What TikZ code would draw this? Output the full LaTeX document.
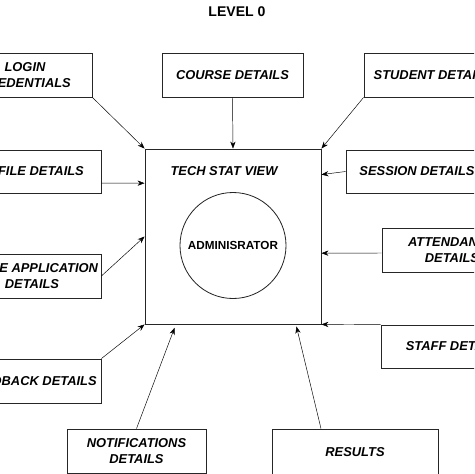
\documentclass[tikz,border=0pt]{standalone}
\usepackage{fontspec}
\setmainfont{Liberation Sans}
\usetikzlibrary{arrows.meta}
\begin{document}
\begin{tikzpicture}
  [x=0.03cm, y=-0.03cm,
  >={Stealth[length=6pt,width=4.5pt]},
  flux/.style={
    draw=black!85,
    rectangle,
    minimum height=1.32cm,
    inner sep=0pt,
    align=center,
    line width=0.7pt,
    font=\fontsize{11}{13.6}\selectfont\bfseries\itshape},
  systeme/.style={
    draw=black!85,
    rectangle,
    minimum width=5.28cm,
    minimum height=5.25cm,
    line width=0.7pt},
  acteur/.style={
    draw=black!85,
    circle,
    minimum size=3.18cm,
    inner sep=0pt,
    line width=0.7pt,
    font=\fontsize{10}{12}\selectfont\bfseries}]

  \useasboundingbox (0,0) rectangle (474,474);
  \clip (0,0) rectangle (474,474);

  \node [font=\fontsize{12}{14}\selectfont\bfseries] at (237,12) (titre) {LEVEL 0};

  \node [systeme] at (233,236.5) (system) {};
  \node [font=\fontsize{11}{13}\selectfont\bfseries\itshape] at (224,171) (vue) {TECH STAT VIEW};
  \node [acteur] at (233,245.5) (admin) {ADMINISRATOR};

  \node [flux, minimum width=4.02cm] at (25,75) (login) {LOGIN\\CREDENTIALS};
  \node [flux, minimum width=4.23cm] at (232.5,75) (course) {COURSE DETAILS};
  \node [flux, minimum width=4.14cm] at (433,75) (student) {STUDENT DETAILS};
  \node [flux, minimum width=4.44cm, minimum height=1.29cm] at (27,171.5) (profile) {PROFILE DETAILS};
  \node [flux, minimum width=4.26cm, minimum height=1.29cm] at (417,171.5) (session) {SESSION DETAILS};
  \node [flux, minimum width=4.14cm] at (32,276) (leave) {LEAVE APPLICATION\\DETAILS};
  \node [flux, minimum width=4.2cm] at (452,250) (attendance) {ATTENDANCE\\DETAILS};
  \node [flux, minimum width=4.14cm] at (32,381) (feedback) {FEEDBACK DETAILS};
  \node [flux, minimum width=4.44cm, minimum height=1.29cm] at (455,346.5) (staff) {STAFF DETAILS};
  \node [flux, minimum width=4.17cm] at (136.5,451) (notif) {NOTIFICATIONS\\DETAILS};
  \node [flux, minimum width=4.98cm, minimum height=1.38cm] at (355,452) (results) {RESULTS};

  \draw [->] (login.south east) -- (system.north west);
  \draw [->] (course.south) -- (system.north);
  \draw [->] (student.south west) -- (system.north east);
  \draw [->] ([yshift=-0.35cm]profile.east) -- ([yshift=1.6cm]system.west);
  \draw [->] (session.west) -- ([yshift=-0.78cm]system.north east);
  \draw [->] (leave.east) -- (system.west);
  \draw [->] ([yshift=-0.09cm]attendance.west) -- ([yshift=-0.5cm]system.east);
  \draw [->] (feedback.north east) -- (system.south west);
  \draw [->] (staff.north west) -- (system.south east);
  \draw [->] (notif.north) -- ([xshift=0.9cm,yshift=-0.1cm]system.south west);
  \draw [->] ([xshift=-1.02cm]results.north) -- ([xshift=-0.75cm,yshift=-0.06cm]system.south east);
\end{tikzpicture}
\end{document}
